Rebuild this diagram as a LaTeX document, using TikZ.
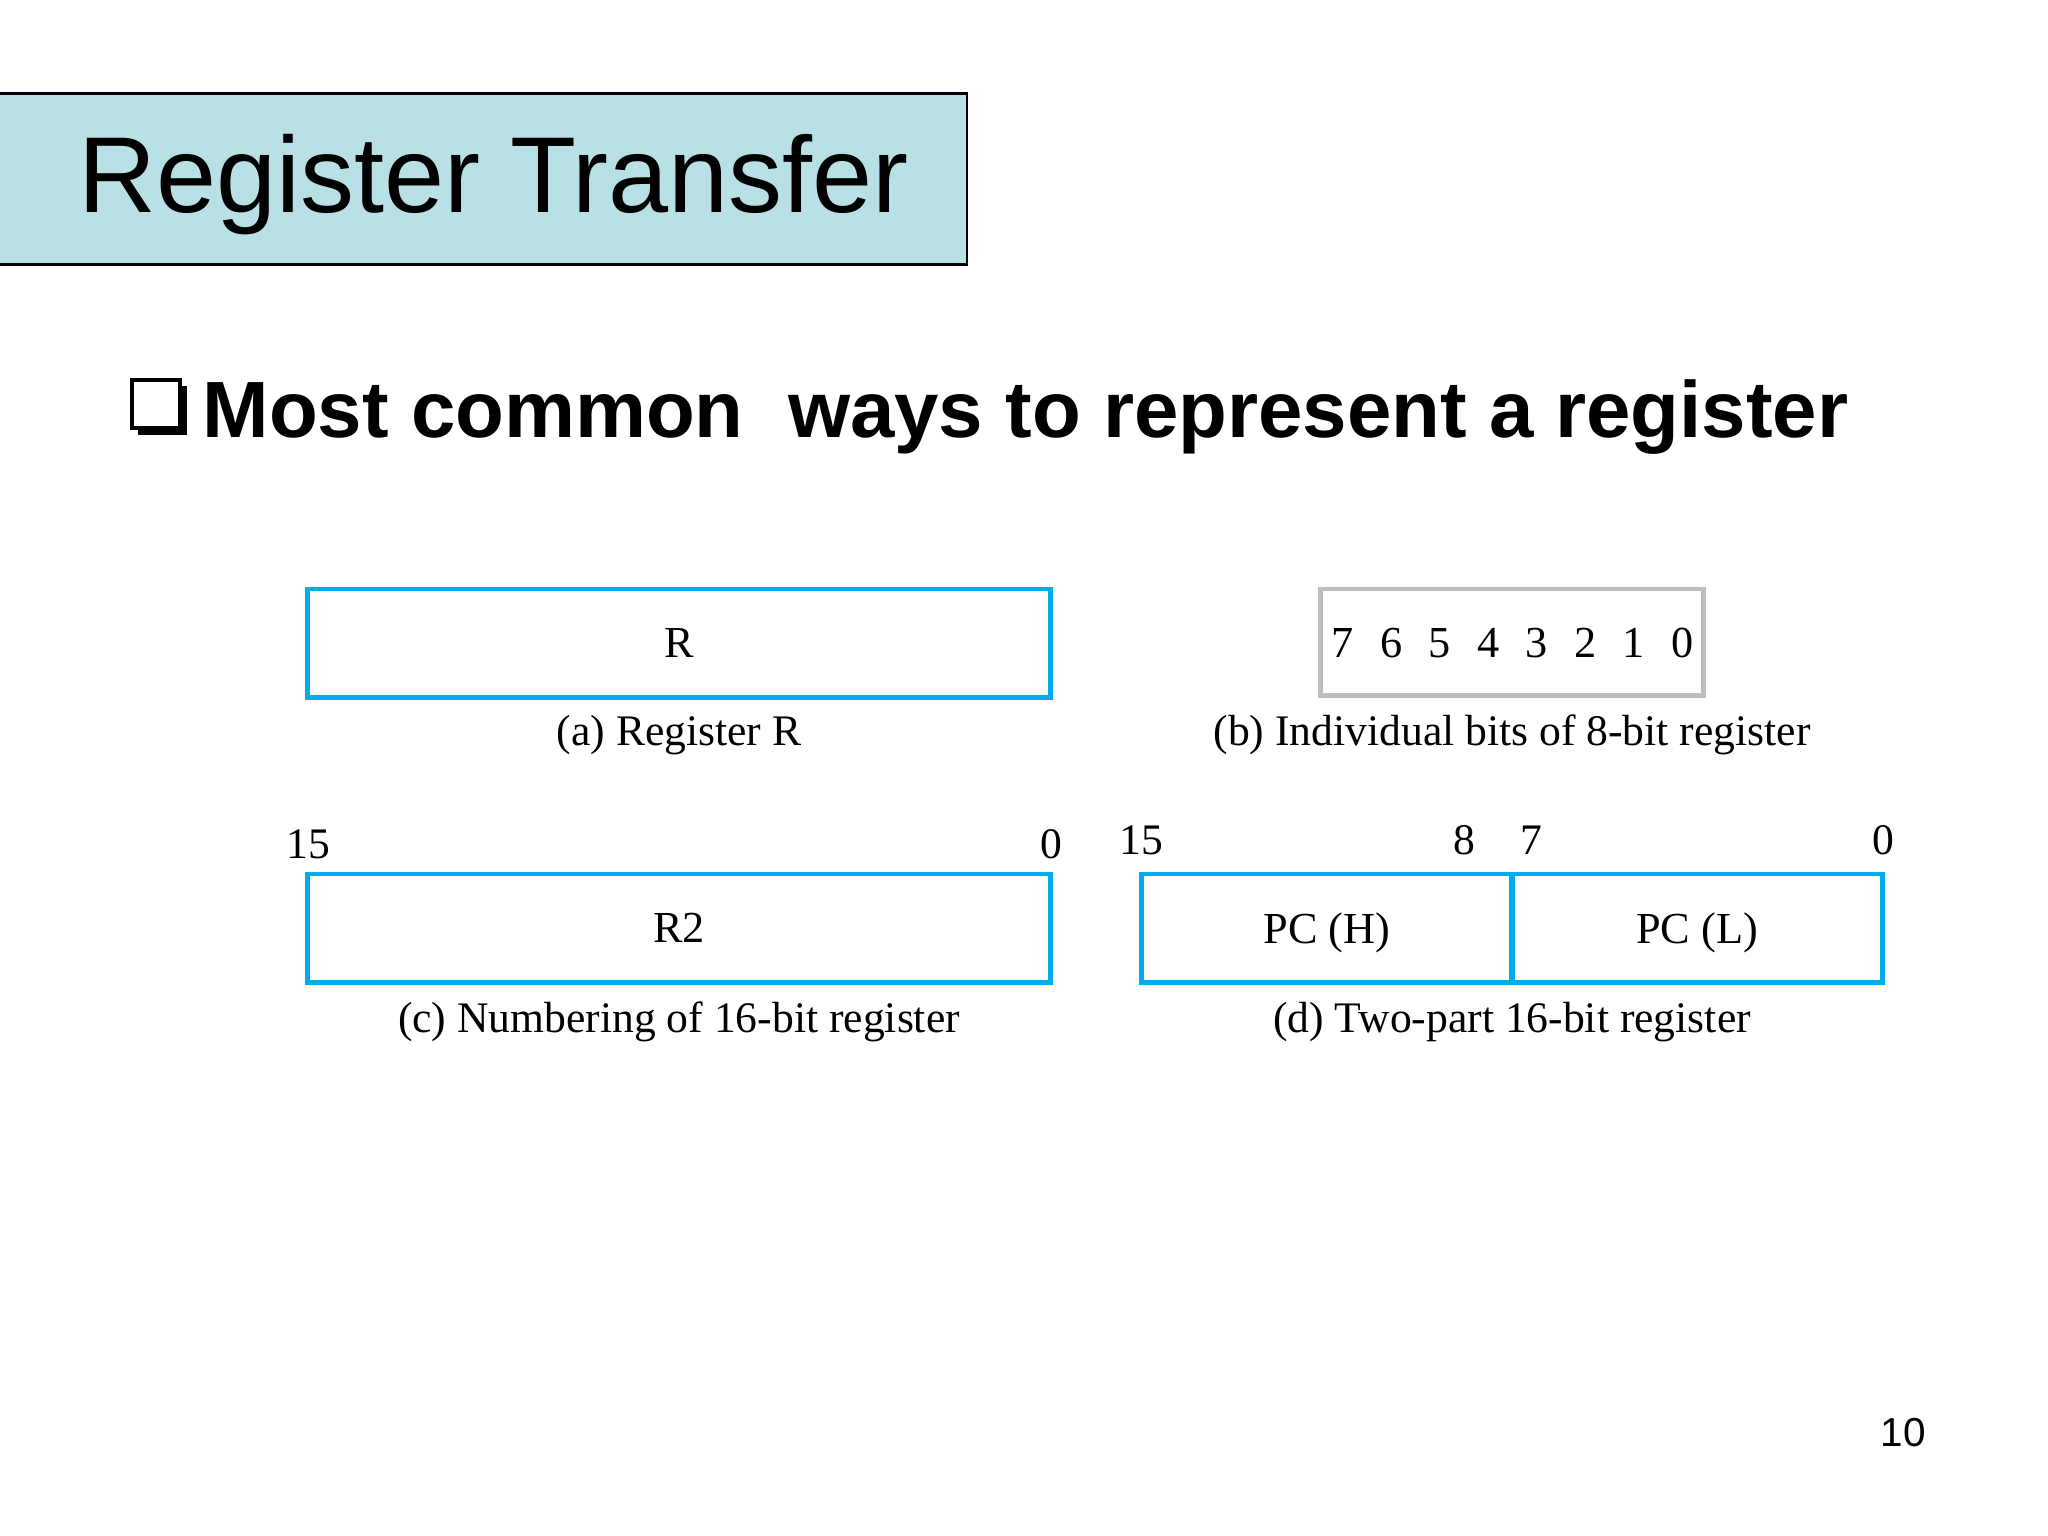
\documentclass[tikz,border=0pt]{standalone}
\usepackage{fontspec}
\setmainfont{Liberation Sans}
\newfontfamily\regfont{Liberation Serif}
\definecolor{regblue}{RGB}{0,172,236}
\definecolor{reggray}{RGB}{190,190,192}
\definecolor{titlefill}{RGB}{185,224,228}
\begin{document}
\begin{tikzpicture}[x=0.01cm,y=-0.01cm,
    regbox/.style={draw=regblue,line width=1.4pt,minimum height=1.08cm,inner sep=0pt,text depth=0pt,
      font=\regfont\fontsize{12.6}{15}\selectfont},
    caption/.style={anchor=base,inner sep=0pt,font=\regfont\fontsize{12.4}{15}\selectfont},
    bitno/.style={anchor=base,inner sep=0pt,font=\regfont\fontsize{12.4}{15}\selectfont}]
        \def\ya{643}
        \def\yc{928}
        \useasboundingbox (0,0) rectangle (2048,1535);
        %% title
        \node[draw,fill=titlefill,line width=0.8pt,anchor=north west,minimum width=9.69cm,minimum height=1.71cm] (titlebox) at (-4,92) {};
        \node[anchor=base west,inner sep=0pt,font=\fontsize{30.7}{36}\selectfont] (title) at (78,212) {Register Transfer};
        %% bullet
        \fill (138,386) rectangle (187,435);
        \draw[fill=white,line width=0.9pt] (132,380) rectangle (180,428);
        \node[anchor=base west,inner sep=0pt,font=\bfseries\fontsize{22.7}{28}\selectfont] (head) at (202,437) {Most common \ ways to represent a register};
        %% (a) register R
        \node[regbox,minimum width=7.42cm] (regR) at (679,\ya) {R};
        \node[caption] (capa) at (679,745) {(a) Register R};
        %% (b) individual bits
        \node[regbox,draw=reggray,minimum width=3.82cm,minimum height=1.06cm] (regB) at (1512,642) {};
        \foreach \b [count=\i from 0] in {7,6,5,4,3,2,1,0}
            \node[inner sep=0pt,font=\regfont\fontsize{12.6}{15}\selectfont] (bit\b) at (1343+48.5*\i,\ya) {\b};
        \node[caption] (capb) at (1512,745) {(b) Individual bits of 8-bit register};
        %% (c) numbering of 16-bit register
        \node[regbox,minimum width=7.42cm] (regRtwo) at (679,\yc) {R2};
        \node[bitno] (cmsb) at (308,858) {15};
        \node[bitno] (clsb) at (1051,858) {0};
        \node[caption] (capc) at (679,1032) {(c) Numbering of 16-bit register};
        %% (d) two-part register
        \node[regbox,minimum width=3.7cm] (pch) at (1327,\yc) {PC (H)};
        \node[regbox,minimum width=3.7cm] (pcl) at (1697,\yc) {PC (L)};
        \node[bitno] (dmsb) at (1141,854) {15};
        \node[bitno] (dhi) at (1464,854) {8};
        \node[bitno] (dlo) at (1531,854) {7};
        \node[bitno] (dlsb) at (1883,854) {0};
        \node[caption] (capd) at (1512,1032) {(d) Two-part 16-bit register};
        %% page number
        \node[inner sep=0pt,font=\fontsize{11.5}{14}\selectfont] (page) at (1903,1433) {10};
    \end{tikzpicture}
\end{document}
